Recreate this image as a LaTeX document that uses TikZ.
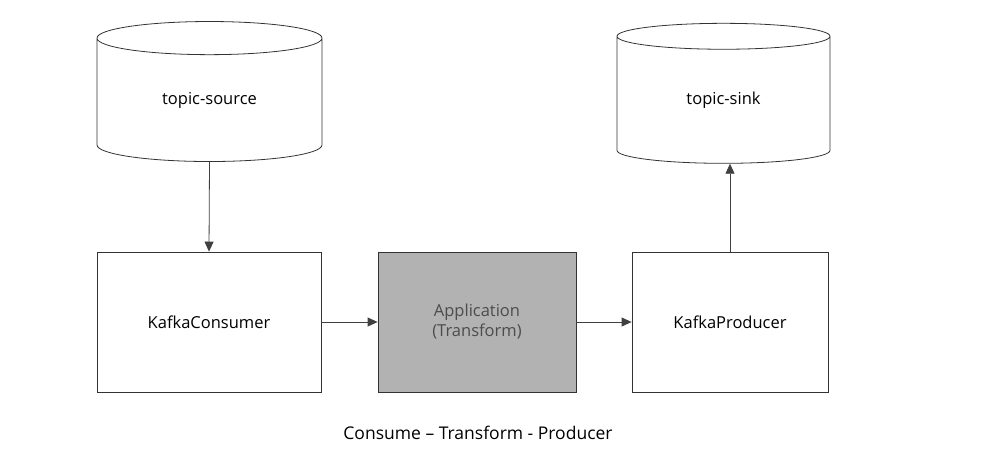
\documentclass[tikz,border=0pt]{standalone}
\usepackage{fontspec}
\setmainfont{Open Sans}
\usetikzlibrary{shapes.geometric,arrows.meta}
\tikzset{
  db/.style={cylinder, shape border rotate=90, draw=black!80, line width=0.8pt,
    aspect=0.35, minimum width=225pt, minimum height=140pt, inner sep=0pt, font=\fontsize{16.5}{19}\selectfont},
  box/.style={draw=black!80, line width=0.8pt, minimum width=224pt, minimum height=140pt,
    inner sep=0pt, font=\fontsize{16.5}{20}\selectfont, align=center},
  link/.style={-{Triangle[length=10pt,width=9pt]}, line width=0.8pt, draw=black!75}
}
\begin{document}
\begin{tikzpicture}[x=1pt,y=-1pt]
\useasboundingbox (0,0) rectangle (988,464);
\node[db] (src) at (209.5,100) {topic-source};
\node[db, minimum width=213pt] (sink) at (723.5,100) {topic-sink};
\node[box] (cons) at (209,322) {KafkaConsumer};
\node[box, minimum width=198pt, fill=black!30, text=black!70] (app) at (477,322) {Application\\(Transform)};
\node[box, minimum width=196pt] (prod) at (730,322) {KafkaProducer};
\draw[link] (src.bottom) -- (cons.north);
\draw[link] (cons) -- (app);
\draw[link] (app) -- (prod);
\draw[link] (prod.north) -- (prod.north |- sink.bottom);
\node[font=\fontsize{17.5}{20}\selectfont] (cap) at (478,433) {Consume – Transform - Producer};
\end{tikzpicture}
\end{document}
